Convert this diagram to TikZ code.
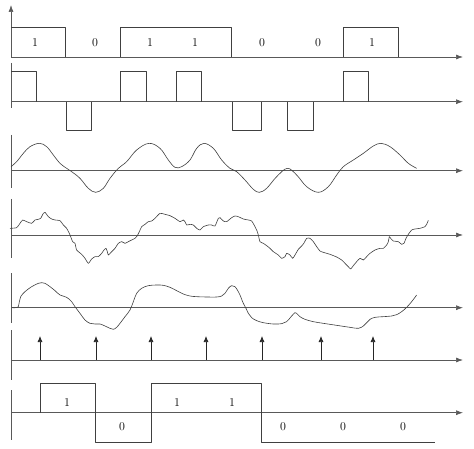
\documentclass[tikz,border=0pt]{standalone}
\usetikzlibrary{arrows.meta}
\begin{document}
\begin{tikzpicture}[x=1pt,y=-1pt,
  sig/.style={draw=black!75,line width=0.6pt,line join=round},
  axisline/.style={draw=black!65,line width=0.7pt},
  axarrow/.style={axisline,-{Latex[length=7pt,width=5pt]}},
  impulse/.style={draw=black!85,line width=0.7pt,-{Latex[length=6pt,width=5pt]}},
  bit/.style={font=\fontsize{12}{14}\selectfont,inner sep=0pt},
  wiggle/.style={sig,smooth,tension=0.35},
  wave/.style={sig,smooth,tension=0.6}]
\useasboundingbox (0,0) rectangle (474,449);
\fill[white] (0,0) rectangle (474,449);

% ---------- Panel 1: unipolar NRZ ----------
\coordinate (a1s) at (11,57); \coordinate (a1e) at (463,57);
\coordinate (v1b) at (11,57); \coordinate (v1t) at (11,5);
\draw[axarrow] (a1s) -- (a1e);
\draw[axarrow] (v1b) -- (v1t);
\draw[sig] (11,27) -- (65.5,27) -- (65.5,57);
\draw[sig] (120.7,57) -- (120.7,27) -- (231.7,27) -- (231.7,57);
\draw[sig] (343,57) -- (343,27) -- (398,27) -- (398,57);
\node[bit] (b11) at (35,43) {1};
\node[bit] (b12) at (95,43) {0};
\node[bit] (b13) at (150,43) {1};
\node[bit] (b14) at (195,43) {1};
\node[bit] (b15) at (262,43) {0};
\node[bit] (b16) at (318,43) {0};
\node[bit] (b17) at (372,43) {1};

% ---------- Panel 2: bipolar RZ ----------
\coordinate (a2s) at (11,101.7); \coordinate (a2e) at (463,101.7);
\draw[axarrow] (a2s) -- (a2e);
\draw[axisline] (11,63) -- (11,108);
\draw[sig] (11,71) -- (36,71) -- (36,101.7);
\draw[sig] (66,101.7) -- (66,130) -- (91.7,130) -- (91.7,101.7);
\draw[sig] (120.7,101.7) -- (120.7,71) -- (146.7,71) -- (146.7,101.7);
\draw[sig] (176.7,101.7) -- (176.7,71) -- (201.7,71) -- (201.7,101.7);
\draw[sig] (232.3,101.7) -- (232.3,130) -- (261.7,130) -- (261.7,101.7);
\draw[sig] (287.3,101.7) -- (287.3,130) -- (313.3,130) -- (313.3,101.7);
\draw[sig] (343.3,101.7) -- (343.3,71) -- (368.3,71) -- (368.3,101.7);

% ---------- Panel 3: shaped waveform ----------
\coordinate (a3s) at (11,170.7); \coordinate (a3e) at (463,170.7);
\draw[axarrow] (a3s) -- (a3e);
\draw[axisline] (11,135) -- (11,188);
\begin{scope}[shift={(0,130)}]
\begin{scope}[x=0.33333pt,y=-0.33333pt]
\draw[wave] plot coordinates {(33,110) (50,95) (70,70) (90,50) (118,40) (140,50) (160,75) (180,100) (200,115) (215,125) (240,145) (265,175) (287,187) (310,175) (330,145) (355,115) (380,95) (410,60) (447,40) (480,55) (505,90) (525,112) (545,110) (570,90) (590,55) (612,40) (640,55) (665,90) (690,115) (710,125) (735,150) (760,178) (778,187) (800,175) (830,140) (862,115) (890,135) (920,170) (955,187) (985,170) (1010,135) (1030,110) (1060,90) (1090,70) (1120,48) (1143,40) (1170,50) (1200,75) (1225,100) (1250,115)};
\end{scope}
\end{scope}

% ---------- Panel 4: noisy waveform ----------
\coordinate (a4s) at (11,235); \coordinate (a4e) at (463,235);
\draw[axarrow] (a4s) -- (a4e);
\draw[axisline] (11,199) -- (11,258);
\begin{scope}[shift={(0,195)}]
\begin{scope}[x=0.33333pt,y=-0.33333pt]
\draw[wiggle] plot coordinates {(30,100) (50,98) (60,85) (68,75) (80,80) (95,85) (105,75) (115,73) (122,70) (130,55) (135,52) (145,65) (155,72) (165,75) (180,77) (190,90) (200,100) (208,115) (212,125) (218,140) (225,145) (230,165) (245,178) (255,190) (265,205) (275,192) (285,185) (295,185) (305,175) (312,165) (318,160) (322,170) (325,180) (335,170) (345,160) (355,145) (365,140) (375,145) (385,140) (395,135) (405,130) (412,122) (418,110) (425,95) (435,88) (445,80) (455,78) (465,70) (480,55)
(495,58) (510,62) (525,70) (540,80) (550,75) (555,80) (560,90) (570,88) (580,90) (590,100) (600,105) (610,95) (625,90) (635,90) (645,93) (655,70) (660,68) (670,78) (680,80) (695,68) (705,63) (715,65) (730,72) (745,75) (755,78) (765,95) (772,110) (775,120) (780,140) (790,145) (800,152) (810,160) (820,170) (835,180) (845,190) (855,185) (860,175) (870,180) (878,190) (885,180) (895,163) (905,153) (912,144) (920,130)
(930,130) (940,140) (950,155) (960,168) (970,172) (990,178) (1010,186) (1025,195) (1035,205) (1045,215) (1052,222) (1060,212) (1070,200) (1080,190) (1090,195) (1100,185) (1110,175) (1125,165) (1140,160) (1150,160) (1160,150) (1165,140) (1168,125) (1172,130) (1180,138) (1195,140) (1205,148) (1212,145) (1218,130) (1225,118) (1235,105) (1245,102) (1260,100) (1275,95) (1280,88) (1285,76)};
\end{scope}
\end{scope}

% ---------- Panel 5: filtered waveform ----------
\coordinate (a5s) at (11,307.7); \coordinate (a5e) at (463,307.7);
\draw[axarrow] (a5s) -- (a5e);
\draw[axisline] (11,273) -- (11,323);
\begin{scope}[shift={(0,270)}]
\begin{scope}[x=0.33333pt,y=-0.33333pt]
\draw[wave] plot coordinates {(35,113) (50,113) (55,110) (58,95) (62,80) (75,65) (95,50) (115,40) (125,38) (135,40) (150,50) (165,62) (180,75) (200,82) (215,95) (225,110) (240,130) (255,150) (270,160) (285,162) (300,162) (315,168) (330,175) (340,178) (350,172) (360,160) (375,140) (390,120) (400,95) (410,70) (425,55) (445,47) (470,45) (490,46) (510,52) (530,62) (550,72) (570,78) (590,80) (620,81) (650,81) (665,78) (675,70) (685,55) (695,47) (705,50) (715,65)
(720,75) (730,100) (738,115) (745,130) (755,143) (770,152) (790,158) (820,162) (845,161) (860,155) (875,138) (885,128) (890,130) (900,140) (915,148) (940,155) (970,160) (1010,166) (1050,172) (1075,175) (1090,168) (1100,158) (1110,148) (1125,142) (1150,140) (1175,138) (1190,134) (1205,125) (1220,112) (1235,95) (1250,75)};
\end{scope}
\end{scope}

% ---------- Panel 6: sampling impulses ----------
\coordinate (a6s) at (11,360); \coordinate (a6e) at (463,360);
\draw[axarrow] (a6s) -- (a6e);
\draw[axisline] (11,330) -- (11,380);
\foreach \n/\x in {1/40,2/96,3/151,4/206,5/262,6/321,7/373}{
  \coordinate (s\n) at (\x,360);
  \coordinate (t\n) at (\x,336);
  \draw[impulse] (s\n) -- (t\n);
}

% ---------- Panel 7: regenerated NRZ ----------
\coordinate (a7s) at (11,412.7); \coordinate (a7e) at (463,412.7);
\draw[axarrow] (a7s) -- (a7e);
\draw[axisline] (11,390) -- (11,440);
\draw[sig] (40,412.7) -- (40,383.3) -- (95.7,383.3) -- (95.7,442.7) -- (151,442.7) -- (151,383.3) -- (261.7,383.3) -- (261.7,442.7) -- (435,442.7);
\node[bit] (b71) at (67,403) {1};
\node[bit] (b72) at (122,427) {0};
\node[bit] (b73) at (177,403) {1};
\node[bit] (b74) at (232,403) {1};
\node[bit] (b75) at (283,427) {0};
\node[bit] (b76) at (343,427) {0};
\node[bit] (b77) at (403,427) {0};
\end{tikzpicture}
\end{document}
